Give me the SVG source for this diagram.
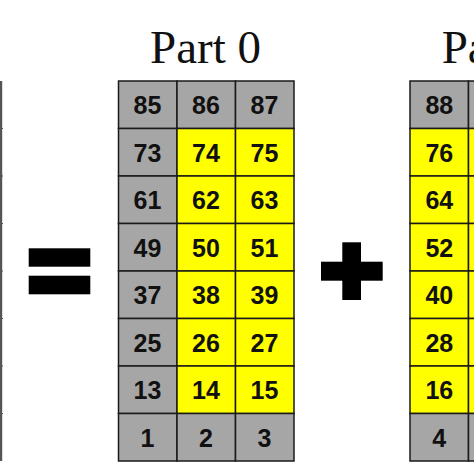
<svg xmlns="http://www.w3.org/2000/svg" width="474" height="474" viewBox="0 0 474 474">
<style>
.g{fill:#A6A6A6;stroke:#1a1a1a;stroke-width:1.5}
.y{fill:#FFFF00;stroke:#1a1a1a;stroke-width:1.5}
.n{font-family:"Liberation Sans",Arial,sans-serif;font-weight:bold;font-size:25px;fill:#111;text-anchor:middle}
.t{font-family:"Liberation Serif","Times New Roman",serif;font-size:47px;fill:#111}
</style>
<rect width="474" height="474" fill="#fff"/>
<g id="left-partial">
<rect x="0" y="81" width="2.2" height="380" fill="#555"/>
<g stroke="#555" stroke-width="1">
<line x1="0" y1="128.5" x2="3" y2="128.5"/>
<line x1="0" y1="176" x2="3" y2="176"/>
<line x1="0" y1="223.5" x2="3" y2="223.5"/>
<line x1="0" y1="271" x2="3" y2="271"/>
<line x1="0" y1="318.5" x2="3" y2="318.5"/>
<line x1="0" y1="366" x2="3" y2="366"/>
<line x1="0" y1="413.5" x2="3" y2="413.5"/>
</g>
</g>
<g id="equals" fill="#000">
<rect x="28.7" y="248.3" width="61.6" height="18.4"/>
<rect x="28.7" y="275.7" width="61.6" height="18.6"/>
</g>
<g id="plus" fill="#000">
<rect x="321" y="261.7" width="61.7" height="19"/>
<rect x="342.3" y="242.3" width="18.7" height="57.7"/>
</g>
<g id="part0">
<text class="t" x="150" y="63">Part 0</text>
<g id="p0-cells">
<rect class="g" x="118.5" y="81" width="58.5" height="47.5"/><rect class="g" x="177" y="81" width="58.5" height="47.5"/><rect class="g" x="235.5" y="81" width="58.5" height="47.5"/>
<rect class="g" x="118.5" y="128.5" width="58.5" height="47.5"/><rect class="y" x="177" y="128.5" width="58.5" height="47.5"/><rect class="y" x="235.5" y="128.5" width="58.5" height="47.5"/>
<rect class="g" x="118.5" y="176" width="58.5" height="47.5"/><rect class="y" x="177" y="176" width="58.5" height="47.5"/><rect class="y" x="235.5" y="176" width="58.5" height="47.5"/>
<rect class="g" x="118.5" y="223.5" width="58.5" height="47.5"/><rect class="y" x="177" y="223.5" width="58.5" height="47.5"/><rect class="y" x="235.5" y="223.5" width="58.5" height="47.5"/>
<rect class="g" x="118.5" y="271" width="58.5" height="47.5"/><rect class="y" x="177" y="271" width="58.5" height="47.5"/><rect class="y" x="235.5" y="271" width="58.5" height="47.5"/>
<rect class="g" x="118.5" y="318.5" width="58.5" height="47.5"/><rect class="y" x="177" y="318.5" width="58.5" height="47.5"/><rect class="y" x="235.5" y="318.5" width="58.5" height="47.5"/>
<rect class="g" x="118.5" y="366" width="58.5" height="47.5"/><rect class="y" x="177" y="366" width="58.5" height="47.5"/><rect class="y" x="235.5" y="366" width="58.5" height="47.5"/>
<rect class="g" x="118.5" y="413.5" width="58.5" height="47.5"/><rect class="g" x="177" y="413.5" width="58.5" height="47.5"/><rect class="g" x="235.5" y="413.5" width="58.5" height="47.5"/>
</g>
<g id="p0-labels">
<text class="n" x="147.5" y="114">85</text><text class="n" x="206" y="114">86</text><text class="n" x="264.5" y="114">87</text>
<text class="n" x="147.5" y="161.5">73</text><text class="n" x="206" y="161.5">74</text><text class="n" x="264.5" y="161.5">75</text>
<text class="n" x="147.5" y="209">61</text><text class="n" x="206" y="209">62</text><text class="n" x="264.5" y="209">63</text>
<text class="n" x="147.5" y="256.5">49</text><text class="n" x="206" y="256.5">50</text><text class="n" x="264.5" y="256.5">51</text>
<text class="n" x="147.5" y="304">37</text><text class="n" x="206" y="304">38</text><text class="n" x="264.5" y="304">39</text>
<text class="n" x="147.5" y="351.5">25</text><text class="n" x="206" y="351.5">26</text><text class="n" x="264.5" y="351.5">27</text>
<text class="n" x="147.5" y="399">13</text><text class="n" x="206" y="399">14</text><text class="n" x="264.5" y="399">15</text>
<text class="n" x="147.5" y="446.5">1</text><text class="n" x="206" y="446.5">2</text><text class="n" x="264.5" y="446.5">3</text>
</g>
</g>
<g id="part1">
<text class="t" x="441.7" y="63">Part 1</text>
<g id="p1-cells">
<rect class="g" x="410" y="81" width="58.5" height="47.5"/><rect class="g" x="468.5" y="81" width="58.5" height="47.5"/>
<rect class="y" x="410" y="128.5" width="58.5" height="47.5"/><rect class="y" x="468.5" y="128.5" width="58.5" height="47.5"/>
<rect class="y" x="410" y="176" width="58.5" height="47.5"/><rect class="y" x="468.5" y="176" width="58.5" height="47.5"/>
<rect class="y" x="410" y="223.5" width="58.5" height="47.5"/><rect class="y" x="468.5" y="223.5" width="58.5" height="47.5"/>
<rect class="y" x="410" y="271" width="58.5" height="47.5"/><rect class="y" x="468.5" y="271" width="58.5" height="47.5"/>
<rect class="y" x="410" y="318.5" width="58.5" height="47.5"/><rect class="y" x="468.5" y="318.5" width="58.5" height="47.5"/>
<rect class="y" x="410" y="366" width="58.5" height="47.5"/><rect class="y" x="468.5" y="366" width="58.5" height="47.5"/>
<rect class="g" x="410" y="413.5" width="58.5" height="47.5"/><rect class="g" x="468.5" y="413.5" width="58.5" height="47.5"/>
</g>
<g id="p1-labels">
<text class="n" x="439.3" y="114">88</text>
<text class="n" x="439.3" y="161.5">76</text>
<text class="n" x="439.3" y="209">64</text>
<text class="n" x="439.3" y="256.5">52</text>
<text class="n" x="439.3" y="304">40</text>
<text class="n" x="439.3" y="351.5">28</text>
<text class="n" x="439.3" y="399">16</text>
<text class="n" x="439.3" y="446.5">4</text>
</g>
</g>
<g id="connectors"/>
</svg>
